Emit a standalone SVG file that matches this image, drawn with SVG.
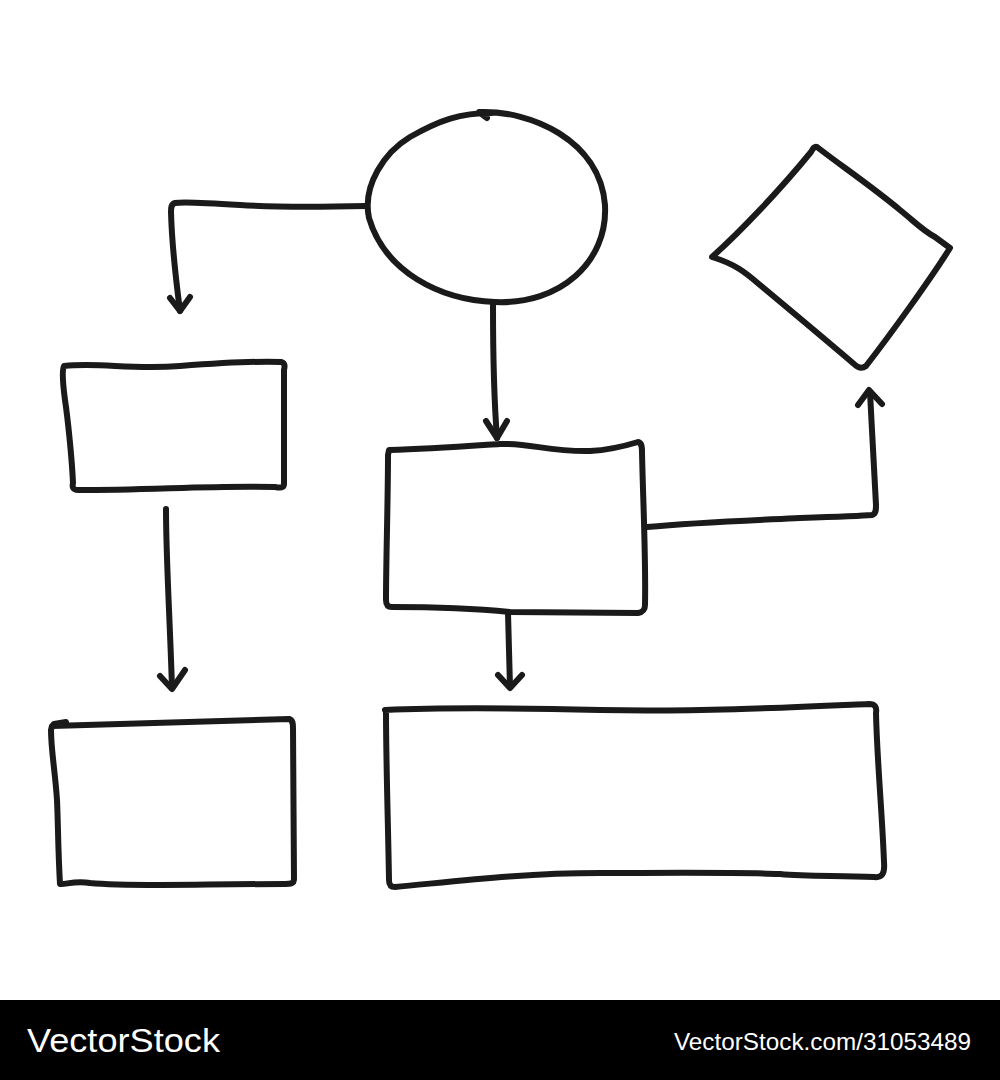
<svg xmlns="http://www.w3.org/2000/svg" width="1000" height="1080" viewBox="0 0 1000 1080">
<style>
.s{fill:none;stroke:#1a1a1a;stroke-width:6;stroke-linecap:round;stroke-linejoin:round}
.wm{fill:#ffffff;font-family:"Liberation Sans",Arial,sans-serif}
</style>
<rect x="0" y="0" width="1000" height="1080" fill="#ffffff"/>
<g id="start-circle">
<path class="s" d="M 487 118 L 479 112 C 530 110, 600 140, 605 205 C 608 262, 560 305, 495 302 C 440 300, 385 272, 369 218 C 362 185, 385 152, 410 137 C 440 120, 460 113, 492 113"/>
</g>
<g id="box-left-top">
<path class="s" d="M 64 366 C 100 362, 130 370, 180 366 C 220 363, 260 361, 281 362 C 285 363, 285 366, 284 370 L 284 484 C 284 488, 280 488, 275 487 C 220 485, 150 490, 78 490 C 73 490, 72 487, 73 483 C 72 460, 68 420, 65 400 C 63 385, 62 370, 64 366 Z"/>
</g>
<g id="box-left-bottom">
<path class="s" d="M 52 726 C 120 724, 200 722, 289 719 C 293 720, 293 724, 293 728 L 294 879 C 294 884, 290 884, 285 884 C 200 884, 130 887, 90 883 C 75 880, 65 885, 60 884 C 58 850, 58 820, 57 800 C 55 770, 51 750, 51 730 Z"/>
<path class="s" d="M 54 724 L 66 722"/>
</g>
<g id="box-center">
<path class="s" d="M 389 450 C 430 449, 470 446, 500 444 C 530 443, 550 452, 590 451 C 610 450, 625 446, 638 442 C 642 443, 642 447, 642 452 C 643 500, 646 560, 645 605 C 645 610, 643 612, 638 613 C 600 613, 560 612, 510 612 C 470 608, 430 607, 392 607 C 387 607, 386 604, 386 600 C 386 560, 388 500, 388 455 Z"/>
</g>
<g id="box-wide">
<path class="s" d="M 385 710 C 450 707, 520 708, 600 710 C 700 712, 800 707, 869 704 C 875 704, 877 707, 876 713 C 877 760, 882 810, 884 862 C 885 874, 882 878, 874 877 C 840 875, 810 877, 780 874 C 740 872, 650 873, 600 873 C 520 873, 450 882, 395 887 C 390 887, 389 884, 389 880 C 388 820, 386 760, 386 712 Z"/>
</g>
<g id="decision">
<path class="s" d="M 817 147 C 840 165, 870 185, 900 210 C 915 222, 922 230, 935 237 L 950 248 C 930 280, 890 335, 866 366 C 862 369, 858 368, 854 364 C 820 335, 790 310, 760 285 C 745 272, 735 264, 712 257 C 740 232, 780 190, 811 152 C 813 148, 815 146, 817 147 Z"/>
</g>
<g id="connectors">
<path class="s" d="M 367 206 C 320 207, 270 207, 240 205 C 210 203, 180 202, 175 203 C 171 204, 171 208, 171 212 C 172 250, 176 280, 180 311"/>
<path class="s" d="M 170 298 L 180 311 L 190 297"/>
<path class="s" d="M 493 305 C 493 350, 494 400, 497 438"/>
<path class="s" d="M 486 421 L 497 438 L 507 421"/>
<path class="s" d="M 166 509 C 166 560, 170 620, 172 688"/>
<path class="s" d="M 160 676 L 172 689 L 185 670"/>
<path class="s" d="M 508 613 L 510 687"/>
<path class="s" d="M 498 675 L 510 688 L 522 675"/>
<path class="s" d="M 647 527 C 700 522, 760 520, 800 518 C 830 517, 860 516, 872 515 C 876 514, 876 510, 876 505 C 874 470, 872 430, 870 392"/>
<path class="s" d="M 858 405 L 869 390 L 882 404"/>
</g>
<rect x="0" y="1000" width="1000" height="80" fill="#000000"/>
<text class="wm" x="27" y="1052" font-size="34" textLength="193" lengthAdjust="spacingAndGlyphs">VectorStock</text>
<text class="wm" x="674" y="1050" font-size="24" textLength="297" lengthAdjust="spacingAndGlyphs">VectorStock.com/31053489</text>
</svg>
